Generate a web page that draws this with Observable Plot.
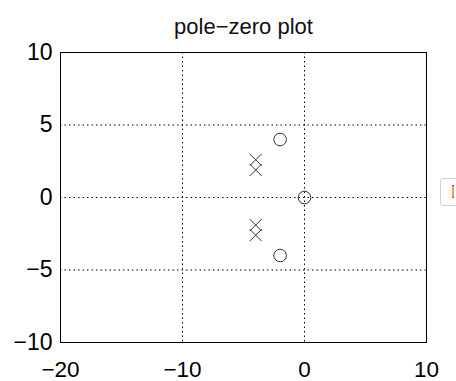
<!DOCTYPE html>
<html>
<head>
<meta charset="utf-8">
<script src="https://cdn.jsdelivr.net/npm/d3@7"></script>
<script src="https://cdn.jsdelivr.net/npm/@observablehq/plot@0.6"></script>
<style>
  html, body { margin: 0; padding: 0; background: #fff; }
  #wrap { position: relative; width: 456px; height: 381px; overflow: hidden; }
  #badge { position: absolute; left: 440px; top: 178px; width: 30px; height: 28px;
           border: 1px solid #d4d4d4; border-radius: 3px; background: #fff; box-sizing: border-box; }
  #badge span { position: absolute; left: 11px; top: 6px; width: 2px; height: 11px;
                background: #f0a040; border-top: 1px solid #3070c0; border-bottom: 1px solid #3070c0; }
</style>
</head>
<body>
<div id="wrap"><div id="badge"><span></span></div></div>
<script>
const title = "pole\u2212zero plot";
const zerosRe = [-2, 0, -2];
const zerosIm = [4, 0, -4];
const polesRe = [-4, -4, -4, -4];
const polesIm = [2.6, 1.9, -1.9, -2.6];
const xTicks = [-20, -10, 0, 10];
const yTicks = [-10, -5, 0, 5, 10];
const xGrid = [-10, 0];
const yGrid = [-5, 0, 5];

const zeros = zerosRe.map((re, i) => ({re, im: zerosIm[i]}));
const poles = polesRe.map((re, i) => ({re, im: polesIm[i]}));

const fmt = d => String(d).replace("-", "\u2212");
const font = "'Liberation Sans', Arial, sans-serif";

const chart = Plot.plot({
  width: 456,
  height: 381,
  marginLeft: 60,
  marginRight: 30,
  marginTop: 52,
  marginBottom: 39,
  style: {fontFamily: font, background: "#fff", color: "#000"},
  x: {domain: [-20, 10]},
  y: {domain: [-10, 10]},
  marks: [
    Plot.gridX(xGrid, {stroke: "#000", strokeOpacity: 1, strokeDasharray: "1.5,3"}),
    Plot.gridY(yGrid, {stroke: "#000", strokeOpacity: 1, strokeDasharray: "1.5,3"}),
    Plot.frame({stroke: "#000", strokeWidth: 1}),
    Plot.axisX(xTicks, {tickSize: 0, tickPadding: 19, fontSize: 22.5, tickFormat: fmt, label: null}),
    Plot.axisY(yTicks, {tickSize: 0, tickPadding: 8, fontSize: 23, tickFormat: fmt, label: null}),
    Plot.dot(zeros, {x: "re", y: "im", r: 6.3, symbol: "circle", stroke: "#333", strokeWidth: 1, fill: "none"}),
    Plot.dot(poles, {x: "re", y: "im", r: 5.5, symbol: "times", stroke: "#333", strokeWidth: 1}),
    Plot.text([title], {frameAnchor: "top", dy: -19, lineAnchor: "bottom", fontSize: 22, fill: "#111"})
  ]
});
document.getElementById("wrap").prepend(chart);
</script>
</body>
</html>
